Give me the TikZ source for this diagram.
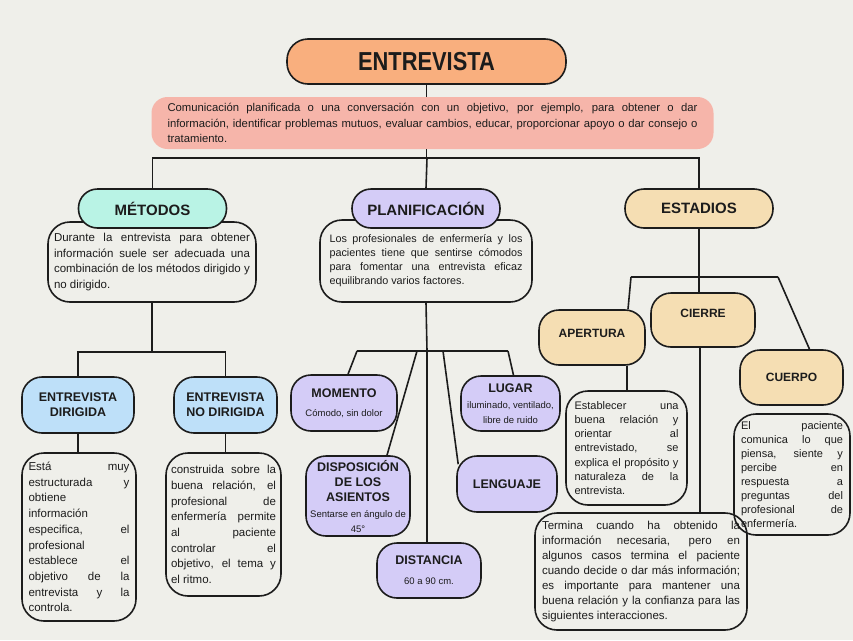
\documentclass[tikz,border=0pt]{standalone}
\usepackage{fontspec}
\setmainfont{Liberation Sans}
\usepackage{graphicx}
\usepackage{tikz}
\usetikzlibrary{positioning}

\definecolor{fondo}{HTML}{EFEFEA}
\definecolor{tinta}{HTML}{1C1C1C}
\definecolor{naranja}{HTML}{F9AF7E}
\definecolor{salmon}{HTML}{F6B5AA}
\definecolor{menta}{HTML}{B9F3E5}
\definecolor{lila}{HTML}{D4CCF7}
\definecolor{celeste}{HTML}{BEE0F9}
\definecolor{trigo}{HTML}{F5DEB3}

\newcommand\detalle{\mdseries\fontsize{9.5}{12}\selectfont}
\tolerance=10000
\hyphenpenalty=10000
\exhyphenpenalty=10000

\begin{document}
\begin{tikzpicture}[x=1pt, y=-1pt,
  caja/.style={draw=tinta, line width=1.6pt, text=tinta, align=center, inner sep=2pt},
  titulo/.style={caja, fill=naranja, rounded corners=21pt, minimum width=279pt,
                 minimum height=45pt, font=\bfseries\fontsize{26}{30}\selectfont},
  resumen/.style={fill=salmon, rounded corners=16pt, text=tinta, align=justify,
                  text width=530pt, inner xsep=16pt, minimum height=52pt,
                  font=\fontsize{11.3}{15.7}\selectfont},
  rama/.style={caja, rounded corners=19pt, minimum width=148pt, minimum height=39pt,
               font=\bfseries\fontsize{15}{18}\selectfont},
  hoja/.style={caja, rounded corners=20pt, minimum height=55pt,
               font=\bfseries\fontsize{12.5}{15}\selectfont},
  texto/.style={draw=tinta, line width=1.6pt, text=tinta, rounded corners=22pt,
                align=justify, inner ysep=0pt, font=\fontsize{11.5}{15.7}\selectfont},
  enlace/.style={draw=tinta, line width=1.6pt}
]
\fill[fondo] (0,0) rectangle (853,640);
\useasboundingbox (0,0) rectangle (853,640);

% cabecera
\node[titulo] (entrevista) at (426.5,61.5) {\scalebox{0.84}[1]{ENTREVISTA}};
\node[resumen, below=12pt of entrevista, xshift=6pt] (resumen)
  {Comunicación planificada o una conversación con un objetivo, por ejemplo, para obtener o dar\linebreak
   información, identificar problemas mutuos, evaluar cambios, educar, proporcionar apoyo o dar consejo o\linebreak
   tratamiento.};

% textos de las ramas (debajo de las cabeceras)
\node[texto, text width=196pt, inner xsep=6pt, minimum height=80pt] (metodostxt) at (152,262)
  {Durante la entrevista para obtener\linebreak información suele ser adecuada una\linebreak
   combinación de los métodos dirigido y\linebreak no dirigido.};
\node[texto, text width=193pt, inner xsep=9.5pt, minimum height=82pt,
      font=\fontsize{10.8}{14}\selectfont] (plantxt) at (426,261)
  {Los profesionales de enfermería y los\linebreak pacientes tiene que sentirse cómodos\linebreak
   para fomentar una entrevista eficaz\linebreak equilibrando varios factores.};

\node[rama, fill=menta] (metodos) at (152.5,208.5) {MÉTODOS};
\node[rama, fill=lila] (plan) at (426,208.5) {PLANIFICACIÓN};
\node[rama, fill=trigo] (estadios) at (699,208.5) {ESTADIOS};

% métodos
\node[hoja, fill=celeste, minimum width=112pt, minimum height=56pt] (dirigida) at (78,405)
  {ENTREVISTA\\DIRIGIDA};
\node[hoja, fill=celeste, minimum width=103pt, minimum height=56pt] (nodirigida) at (225.5,405)
  {ENTREVISTA\\NO DIRIGIDA};
\node[texto, text width=101pt, inner xsep=6.5pt, minimum height=168pt] (dirigidatxt) at (79,537)
  {Está muy\linebreak estructurada y\linebreak obtiene\linebreak información\linebreak
   especifica, el\linebreak profesional\linebreak establece el\linebreak objetivo de la\linebreak
   entrevista y la\linebreak controla.};
\node[texto, text width=105pt, inner xsep=5pt, minimum height=143pt] (nodirigidatxt) at (223.5,524.5)
  {construida sobre la\linebreak buena relación, el\linebreak profesional de\linebreak
   enfermería permite\linebreak al paciente\linebreak controlar el\linebreak
   objetivo, el tema y\linebreak el ritmo.};

% planificación
\node[hoja, fill=lila, minimum width=106pt, minimum height=56pt] (momento) at (344,403)
  {MOMENTO\\[4pt]{\detalle Cómodo, sin dolor}};
\node[hoja, fill=lila, minimum width=104pt, minimum height=80pt] (asientos) at (358,496)
  {DISPOSICIÓN\\DE LOS\\ASIENTOS\\[1pt]{\detalle Sentarse en ángulo de}\\{\detalle 45°}};
\node[hoja, fill=lila, minimum width=104pt] (distancia) at (429,570.5)
  {DISTANCIA\\[5pt]{\detalle 60 a 90 cm.}};
\node[hoja, fill=lila, minimum width=99pt] (lugar) at (510.5,403.5)
  {LUGAR\\[1pt]{\detalle iluminado, ventilado,}\\{\detalle libre de ruido}};
\node[hoja, fill=lila, minimum width=100pt, minimum height=56pt] (lenguaje) at (507,484) {LENGUAJE};

% estadios
\node[texto, text width=104pt, inner xsep=8.5pt, minimum height=114pt,
      font=\fontsize{11}{14.3}\selectfont] (aperturatxt) at (626.5,448)
  {Establecer una\linebreak buena relación y\linebreak orientar al\linebreak entrevistado, se\linebreak
   explica el propósito y\linebreak naturaleza de la\linebreak entrevista.};
\node[texto, text width=102pt, inner xsep=7pt, minimum height=121pt,
      font=\fontsize{11}{14.1}\selectfont] (cuerpotxt) at (792,474.5)
  {El paciente\linebreak comunica lo que\linebreak piensa, siente y\linebreak percibe en\linebreak
   respuesta a\linebreak preguntas del\linebreak profesional de\linebreak enfermería.};
\node[texto, text width=198pt, inner xsep=7pt, minimum height=117pt,
      font=\fontsize{11.5}{15}\selectfont] (cierretxt) at (641,571.5)
  {Termina cuando ha obtenido la\linebreak información necesaria, pero en\linebreak
   algunos casos termina el paciente\linebreak cuando decide o dar más información;\linebreak
   es importante para mantener una\linebreak buena relación y la confianza para las\linebreak
   siguientes interacciones.};

\node[hoja, fill=trigo, minimum width=106pt, text depth=8pt,
      font=\bfseries\fontsize{12}{15}\selectfont] (apertura) at (592,337.5) {APERTURA};
\node[hoja, fill=trigo, minimum width=104pt, minimum height=54pt, text depth=14pt,
      font=\bfseries\fontsize{12}{15}\selectfont] (cierre) at (703,320) {CIERRE};
\node[hoja, fill=trigo, minimum width=103pt, font=\bfseries\fontsize{12}{15}\selectfont] (cuerpo) at (791.5,377.5) {CUERPO};

% barras de reparto
\coordinate (barra) at (427,158);
\coordinate (mbarra) at (152,352);
\coordinate (pbarra) at (427,351);
\coordinate (pizq) at (357,351);
\coordinate (pasi) at (417,351);
\coordinate (pleng) at (443,351);
\coordinate (pder) at (508,351);
\coordinate (ebarra) at (699,277);
\coordinate (eizq) at (631,277);
\coordinate (eder) at (778,277);

\draw[enlace] (entrevista.south) -- (entrevista.south |- resumen.north);
\draw[enlace] (entrevista.south |- resumen.south) -- (entrevista.south |- barra);
\draw[enlace] (metodos.north) |- (barra) -| (estadios.north);
\draw[enlace] (barra) -- (plan.north);

\draw[enlace] (metodostxt.south) -- (mbarra);
\draw[enlace] (dirigida.north) |- (mbarra) -| (nodirigida.north);
\draw[enlace] (dirigida.south) -- (dirigida.south |- dirigidatxt.north);
\draw[enlace] (nodirigida.south) -- (nodirigida.south |- nodirigidatxt.north);

\draw[enlace] (plantxt.south) -- (pbarra);
\draw[enlace] (pizq) -- (pder);
\draw[enlace] (pizq) -- ([xshift=4pt]momento.north);
\draw[enlace] (pasi) -- ([xshift=29pt]asientos.north);
\draw[enlace] (pbarra) -- (pbarra |- distancia.north);
\draw[enlace] (pleng) -- ([xshift=2pt,yshift=-9pt]lenguaje.north west);
\draw[enlace] (pder) -- ([xshift=3pt]lugar.north);

\draw[enlace] (estadios.south) -- (ebarra);
\draw[enlace] (eizq) -- (eder);
\draw[enlace] (eizq) -- ([xshift=36pt]apertura.north);
\draw[enlace] (ebarra) -- (ebarra |- cierre.north);
\draw[enlace] (eder) -- ([xshift=18pt]cuerpo.north);
\draw[enlace] ([xshift=35pt]apertura.south) -- ([xshift=35pt]apertura.south |- aperturatxt.north);
\draw[enlace] ([xshift=-3pt]cierre.south) -- ([xshift=-3pt]cierre.south |- cierretxt.north);
\end{tikzpicture}
\end{document}
